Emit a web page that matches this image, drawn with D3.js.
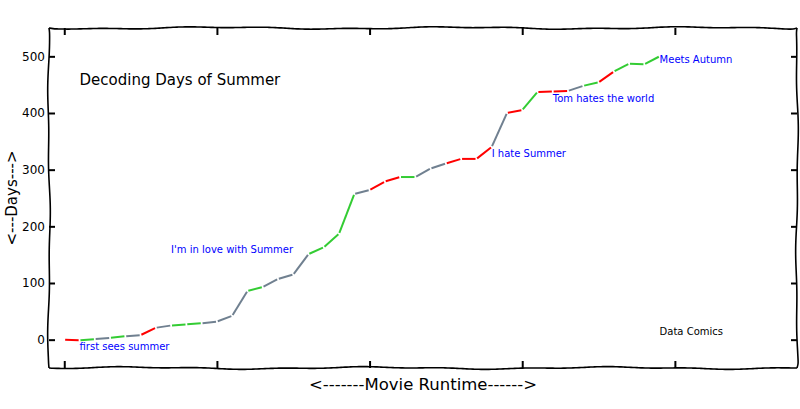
<!DOCTYPE html>
<html>
<head>
  <meta charset="UTF-8">
  <title>Decoding Days of Summer</title>
  <style type="text/css">
    body { margin: 0; background: #fff; }
    text { font-family: "Humor Sans", "Comic Sans MS", "DejaVu Sans", sans-serif; }
    .frame { fill: none; stroke: #000; stroke-width: 1.6px; }
    .tick line { stroke: #000; stroke-width: 2px; }
    .tick text { font-size: 12px; fill: #000; }
    .seg { fill: none; stroke-width: 2px; }
  </style>
</head>
<body>
  <div class="svg-zone"></div>
  <script src="https://cdn.jsdelivr.net/npm/d3@7"></script>
  <script type="text/javascript">
    // days elapsed at each scene of the movie
    var days = [0, -1, 1, 3, 6, 8, 21, 25, 27, 29,
      32, 42, 86, 93, 107, 115, 151, 163, 187, 257,
      264, 279, 287, 287, 302, 311, 319, 319, 340, 400,
      405, 437, 438, 439, 448, 454, 473, 487, 486, 500];

    // mood of each step between scenes
    var moods = ["red", "green", "gray", "green", "gray", "red", "gray", "green", "green", "gray",
      "gray", "gray", "green", "gray", "gray", "gray", "green", "green", "green", "gray",
      "red", "red", "green", "gray", "gray", "red", "red", "red", "gray", "red",
      "green", "red", "red", "gray", "green", "red", "green", "green", "green"];

    var moodColor = { red: "#ff0000", green: "#33cc33", gray: "#708090" };

    var yTicks = [0, 100, 200, 300, 400, 500];
    var xTicks = [0, 10, 20, 30, 40];

    var notes = [
      { text: "first sees summer", x: 1, y: -18 },
      { text: "I'm in love with Summer", x: 7, y: 153 },
      { text: "I hate Summer", x: 28, y: 323 },
      { text: "Tom hates the world", x: 32, y: 419 },
      { text: "Meets Autumn", x: 39, y: 489 }
    ];

    var width = 800,
      height = 409,
      pLeft = 49, pRight = 797, pTop = 28, pBottom = 368;

    var x = d3.scaleLinear().domain([-1, 48]).range([pLeft, pRight]),
      y = d3.scaleLinear().domain([-50, 550]).range([pBottom, pTop]);

    var svg = d3.select(".svg-zone").append("svg")
      .attr("width", width)
      .attr("height", height);

    // hand drawn looking edge: a straight line with a gentle wobble
    function wobbly(x0, y0, x1, y1, phase) {
      var len = Math.hypot(x1 - x0, y1 - y0),
        nx = -(y1 - y0) / len, ny = (x1 - x0) / len,
        n = Math.ceil(len / 4), pts = [];
      for (var i = 0; i <= n; i++) {
        var t = i / n,
          w = 0.9 * Math.sin(t * len / 38 + phase) + 0.5 * Math.sin(t * len / 13 + phase * 2);
        if (i == 0 || i == n) w = 0;
        pts.push([x0 + (x1 - x0) * t + nx * w, y0 + (y1 - y0) * t + ny * w]);
      }
      return d3.line().curve(d3.curveBasis)(pts);
    }

    // axes, ticks pointing inward on all four sides
    svg.append("g")
      .attr("transform", "translate(" + pLeft + ",0)")
      .call(d3.axisLeft(y).tickValues(yTicks).tickSizeInner(-6).tickSizeOuter(0).tickPadding(4))
      .call(function (g) { g.select(".domain").remove(); });

    svg.append("g")
      .attr("transform", "translate(" + pRight + ",0)")
      .call(d3.axisRight(y).tickValues(yTicks).tickSizeInner(-6).tickSizeOuter(0).tickFormat(""))
      .call(function (g) { g.select(".domain").remove(); });

    svg.append("g")
      .attr("transform", "translate(0," + pBottom + ")")
      .call(d3.axisBottom(x).tickValues(xTicks).tickSizeInner(-7).tickSizeOuter(0).tickFormat(""))
      .call(function (g) { g.select(".domain").remove(); });

    svg.append("g")
      .attr("transform", "translate(0," + pTop + ")")
      .call(d3.axisTop(x).tickValues(xTicks).tickSizeInner(-7).tickSizeOuter(0).tickFormat(""))
      .call(function (g) { g.select(".domain").remove(); });

    svg.append("path").attr("class", "frame").attr("d", wobbly(pLeft, pTop, pRight, pTop, 0.3));
    svg.append("path").attr("class", "frame").attr("d", wobbly(pRight, pTop, pRight, pBottom, 1.7));
    svg.append("path").attr("class", "frame").attr("d", wobbly(pRight, pBottom, pLeft, pBottom, 2.9));
    svg.append("path").attr("class", "frame").attr("d", wobbly(pLeft, pBottom, pLeft, pTop, 4.1));

    // one short line per step, coloured by mood
    var steps = moods.map(function (m, i) {
      return { mood: m, a: [i, days[i]], b: [i + 1, days[i + 1]] };
    });

    svg.selectAll(".seg")
      .data(steps)
      .enter().append("line")
      .attr("class", "seg")
      .attr("stroke", function (d) { return moodColor[d.mood]; })
      .each(function (d) {
        var x0 = x(d.a[0]), y0 = y(d.a[1]), x1 = x(d.b[0]), y1 = y(d.b[1]),
          len = Math.hypot(x1 - x0, y1 - y0), gap = 0.9 / len;
        d3.select(this)
          .attr("x1", x0 + (x1 - x0) * gap).attr("y1", y0 + (y1 - y0) * gap)
          .attr("x2", x1 - (x1 - x0) * gap).attr("y2", y1 - (y1 - y0) * gap);
      });

    svg.selectAll(".note")
      .data(notes)
      .enter().append("text")
      .attr("class", "note")
      .attr("x", function (d) { return x(d.x); })
      .attr("y", function (d) { return y(d.y); })
      .attr("fill", "#0000ff")
      .style("font-size", "10px")
      .text(function (d) { return d.text; });

    svg.append("text")
      .attr("x", x(39)).attr("y", y(8))
      .style("font-size", "10px")
      .text("Data Comics");

    svg.append("text")
      .attr("x", x(1)).attr("y", y(449))
      .style("font-size", "15px")
      .text("Decoding Days of Summer");

    svg.append("text")
      .attr("text-anchor", "middle")
      .attr("x", (pLeft + pRight) / 2).attr("y", 390)
      .style("font-size", "16.5px")
      .text("<-------Movie Runtime------>");

    svg.append("text")
      .attr("text-anchor", "middle")
      .attr("transform", "translate(17," + (pTop + pBottom) / 2 + ") rotate(-90)")
      .style("font-size", "15px")
      .text("<---Days--->");
  </script>
</body>
</html>
